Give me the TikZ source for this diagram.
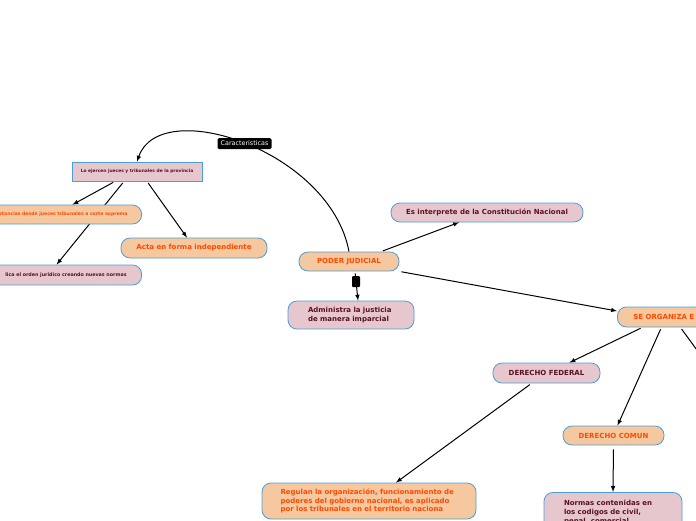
\documentclass[tikz,border=0pt]{standalone}
\usepackage{fontspec}
\setmainfont{DejaVu Sans}
\usetikzlibrary{arrows, shapes, positioning, calc}
\definecolor{rosa}{HTML}{E6C7CD}
\definecolor{naranja}{HTML}{F5C8A0}
\definecolor{borde}{HTML}{4C9ED9}
\definecolor{rojizo}{HTML}{FF4A00}
\definecolor{granate}{HTML}{5A1023}
\pgfdeclarelayer{fondo}
\pgfsetlayers{fondo,main}

\begin{document}
\begin{tikzpicture}[x=1pt,y=-1pt,->,>=latex,line width=1pt,
      rosabox/.style={draw=borde,fill=rosa,rounded corners=9pt,text=granate,
         font=\fontsize{7}{8.7}\selectfont\bfseries,minimum height=19pt,inner sep=0pt,line width=.8pt},
      naranjabox/.style={rosabox,fill=naranja,text=rojizo}]
             \useasboundingbox (0,0) rectangle (696,520);
             \tikzstyle{chico} = [font=\fontsize{4.4}{5}\selectfont\bfseries]
             \tikzstyle{etiqueta} = [fill=black,text=white,rounded corners=1.5pt,inner sep=0pt,
                minimum width=54pt,minimum height=11pt,font=\fontsize{6.4}{7}\selectfont]
             \tikzstyle{marca} = [fill=black,rounded corners=1pt,minimum width=8pt,minimum height=11pt,inner sep=0pt]
             \tikzstyle{flecha} = [draw, ->, line width=1pt, shorten <=2pt]

             \node [naranjabox, minimum width=100pt] at (349,261.5) (poder) {PODER JUDICIAL};
             \node [rosabox, minimum width=192pt] at (487,212.5) (interp) {Es interprete de la Constitución Nacional};
             \node [rosabox, minimum width=126pt, minimum height=28pt, text width=86pt, align=left] at (351,315) (admin) {Administra la justicia\\de manera imparcial};

             \node [rosabox, chico, rounded corners=0pt, minimum width=130pt] at (137,171.5) (lo) {Lo ejercen jueces y tribunales de la provincia};
             \node [naranjabox, chico, font=\fontsize{4.6}{5}\selectfont\bfseries, anchor=east, text width=190pt, align=right, inner xsep=14pt] at (142,214.5) (stancias) {stancias desde jueces tribunales a corte suprema};
             \node [naranjabox, minimum width=146pt, minimum height=20pt] at (194,248) (acta) {Acta en forma independiente};
             \node [rosabox, chico, font=\fontsize{4.8}{5}\selectfont\bfseries, anchor=east, text width=190pt, align=right, inner xsep=15pt, minimum height=20pt] at (142,275) (lica) {lica el orden juridico creando nuevas normas};

             \node [naranjabox, anchor=west, text width=100pt, align=left, inner xsep=16pt, minimum height=20pt] at (617,317) (seorg) {SE ORGANIZA E};
             \node [rosabox, minimum width=107pt, minimum height=20pt] at (546.5,373) (federal) {DERECHO FEDERAL};
             \node [naranjabox, minimum width=101pt] at (613.5,435.5) (comun) {DERECHO COMUN};
             \node [naranjabox, minimum width=214pt, minimum height=36pt, text width=177pt, align=left] at (369,501) (regulan) {Regulan la organización, funcionamiento de\\poderes del gobierno nacional, es aplicado\\por los tribunales en el territorio naciona};
             \node [rosabox, anchor=north, minimum width=138pt, minimum height=40pt, text width=98pt, align=left] at (613,492) (normas) {Normas contenidas en\\los codigos de civil,\\penal, comercial};
             \coordinate (fuera) at (702,357);

             \draw [line width=1pt] (poder.north) .. controls (330,150) and (160,95) .. (lo.north) node [etiqueta, pos=.5] (carac) {Caracteristicas};

             \draw [flecha] ([xshift=-22pt]lo.south) -- ([xshift=40pt]stancias.north);
             \begin{pgfonlayer}{fondo}
             \draw [flecha] ([xshift=-13pt]lo.south) -- ([xshift=25pt]lica.north);
             \end{pgfonlayer}
             \draw [flecha] ([xshift=10pt]lo.south) -- ([xshift=-7pt]acta.north);

             \draw [flecha] ([xshift=32pt]poder.north) -- ([xshift=-28pt]interp.south);
             \draw [flecha] ([xshift=6pt]poder.south) -- ([xshift=7pt]admin.north) node [marca, pos=.35] (toggle) {};
             \draw [flecha] (poder.south east) -- ([yshift=6pt]seorg.west);

             \draw [flecha] ([xshift=-41pt]seorg.south) -- ([xshift=23pt]federal.north);
             \draw [flecha] ([xshift=-22pt]seorg.south) -- ([xshift=4pt]comun.north);
             \draw [flecha, -] ([xshift=-3pt]seorg.south) -- (fuera);
             \draw [flecha] ([xshift=-15pt]federal.south) -- ([xshift=27pt]regulan.north);
             \draw [flecha, shorten <=4pt] (comun.south) -- (normas.north);
         \end{tikzpicture}
\end{document}
